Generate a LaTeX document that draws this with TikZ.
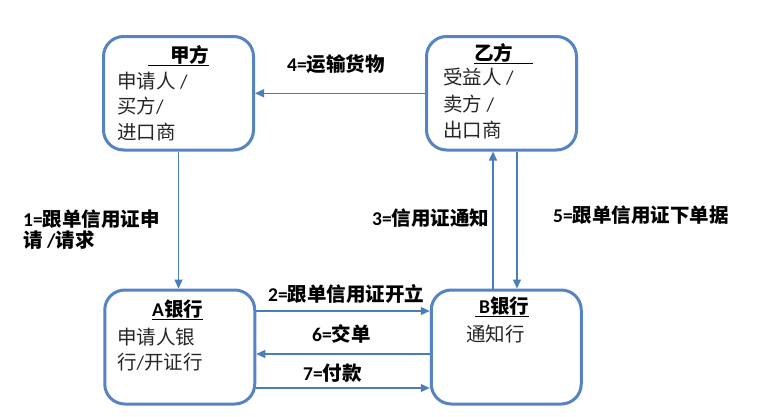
\documentclass[tikz,border=0pt]{standalone}
\usepackage{fontspec}
\setmainfont{Carlito}
\newfontfamily\cjk{Noto Sans CJK SC}
\newfontfamily\lat{Carlito}
\usetikzlibrary{arrows.meta}
\definecolor{boxblue}{HTML}{5583C3}
\definecolor{linblue}{HTML}{4A7EBB}
\definecolor{txt}{HTML}{262626}
\begin{document}
\begin{tikzpicture}[x=1pt,y=-1pt,
  box/.style={draw=boxblue, line width=3pt, rounded corners=20pt, minimum width=150pt, minimum height=113.5pt, inner sep=0pt},
  arr/.style={draw=linblue, line width=1.2pt, -{Triangle[length=9pt,width=8pt]}},
  body/.style={anchor=base west, inner sep=0pt, font=\cjk\fontsize{19.5}{23}\selectfont, text=txt},
  ttl/.style={anchor=base west, inner sep=0pt, font=\cjk\bfseries\fontsize{19.5}{23}\selectfont, text=black},
  lab/.style={anchor=base west, inner sep=0pt, font=\cjk\bfseries\fontsize{19.5}{23}\selectfont, text=black}]
\useasboundingbox[fill=white] (0,0) rectangle (771,416);

% boxes
\node[box] (jia) at (178.5,93.25) {};
\node[box] (yi)  at (501.5,93.25) {};
\node[box, minimum height=114pt] (A) at (179.75,347) {};
\node[box, minimum height=114pt] (B) at (506.25,347) {};

% box texts
\node[ttl] (jiat) at (148,62) {\underline{\hspace{22pt}甲方}};
\node[body] (jia1) at (117,88) {申请人 {\lat /}};
\node[body] (jia2) at (117,113) {买方{\lat /}};
\node[body] (jia3) at (117,139) {进口商};

\node[ttl] (yit) at (474,60) {\underline{乙方\hspace{20pt}}};
\node[body] (yi1) at (443,84) {受益人 {\lat /}};
\node[body] (yi2) at (443,111) {卖方 {\lat /}};
\node[body] (yi3) at (443,137) {出口商};

\node[ttl] (At) at (152,316) {\underline{{\lat A}银行}};
\node[body] (A1) at (117,344) {申请人银};
\node[body] (A2) at (117,369) {行{\lat /}开证行};

\node[ttl] (Bt) at (475,313) {\underline{\hspace{4pt}{\lat B}银行}};
\node[body] (B1) at (466,341) {通知行};

% connectors
\draw[arr] (yi.west) -- (jia.east);
\draw[arr] (jia.south) -- (jia.south |- A.north);
\draw[arr] (B.north -| 493,0) -- (yi.south -| 493,0);
\draw[arr] (yi.south -| 517,0) -- (B.north -| 517,0);
\draw[arr] (A.east |- 0,311) -- (B.west |- 0,311);
\draw[arr] (B.west |- 0,354) -- (A.east |- 0,354);
\draw[arr] (A.east |- 0,388) -- (B.west |- 0,388);

% labels
\node[lab] (l4) at (287,71) {{\lat 4=}运输货物};
\node[lab, align=left, anchor=north west] (l1) at (23,210) {{\lat 1=}跟单信用证申\\[-2pt]请 {\lat /}请求};
\node[lab] (l3) at (372,225) {{\lat 3=}信用证通知};
\node[lab] (l5) at (553,222) {{\lat 5=}跟单信用证下单据};
\node[lab] (l2) at (268,301) {{\lat 2=}跟单信用证开立};
\node[lab] (l6) at (312,341) {{\lat 6=}交单};
\node[lab] (l7) at (303,380) {{\lat 7=}付款};
\end{tikzpicture}
\end{document}
